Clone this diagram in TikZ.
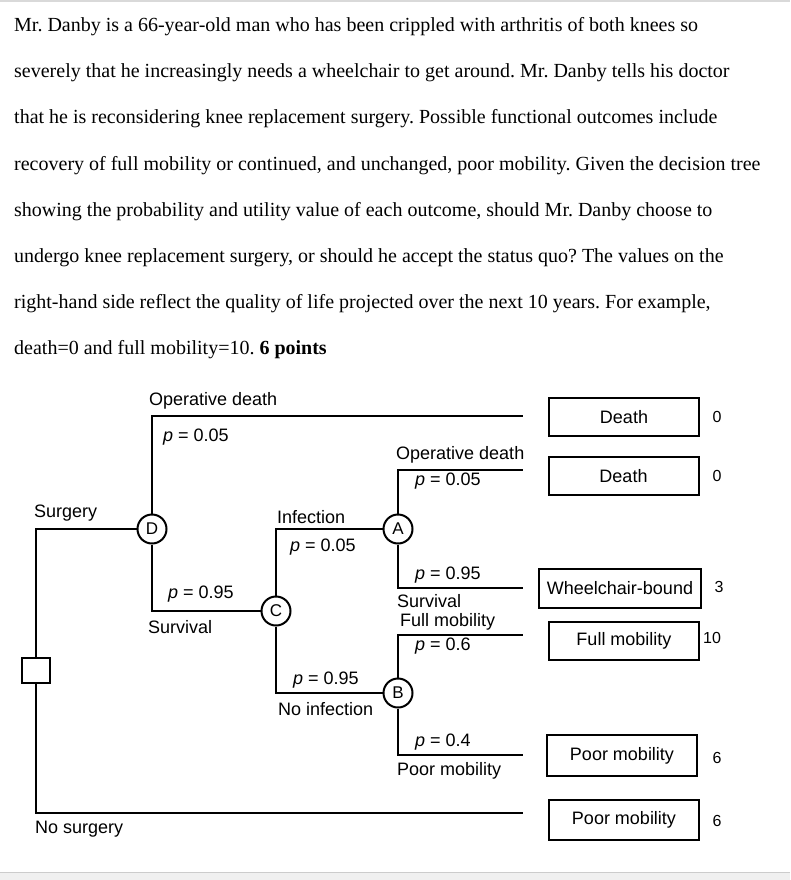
\documentclass[tikz,border=0pt]{standalone}
\usepackage{fontspec}
\setmainfont{Liberation Serif}
\newfontfamily\treefont{Liberation Sans}
\usetikzlibrary{positioning}
\frenchspacing

\begin{document}
\begin{tikzpicture}[x=1pt,y=-1pt,
		chance/.style={draw,circle,line width=2pt,inner sep=0pt,minimum size=29pt,font=\treefont\fontsize{17}{17}\selectfont},
		choice/.style={draw,rectangle,line width=2pt,inner sep=0pt,minimum width=28pt,minimum height=25pt},
		outcome/.style={draw,rectangle,line width=2pt,inner sep=0pt,minimum width=150pt,minimum height=38pt,font=\treefont\fontsize{18}{18}\selectfont},
		lbl/.style={anchor=west,inner sep=0pt,font=\treefont\fontsize{18}{18}\selectfont},
		val/.style={inner sep=0pt,font=\treefont\fontsize{16}{16}\selectfont},
		para/.style={anchor=base west,inner sep=0pt,font=\fontsize{20}{20}\selectfont},
		branch/.style={line width=2pt}]
	%%%%% START %%%%%
	\useasboundingbox (0,0) rectangle (790,880);
	\def\xend{523}
	\def\xdec{36}
	
	% page edges
	\draw[black!15,line width=2pt] (0,1) -- (790,1);
	\fill[black!6] (0,872) rectangle (790,880);
	\draw[black!20] (0,872) -- (790,872);
	
	% question
	\node[para] (l1) at (14,32) {Mr. Danby is a 66-year-old man who has been crippled with arthritis of both knees so};
	\node[para] (l2) at (14,78) {severely that he increasingly needs a wheelchair to get around. Mr. Danby tells his doctor};
	\node[para] (l3) at (14,124) {that he is reconsidering knee replacement surgery. Possible functional outcomes include};
	\node[para] (l4) at (14,170) {recovery of full mobility or continued, and unchanged, poor mobility. Given the decision tree};
	\node[para] (l5) at (14,216) {showing the probability and utility value of each outcome, should Mr. Danby choose to};
	\node[para] (l6) at (14,262) {undergo knee replacement surgery, or should he accept the status quo? The values on the};
	\node[para] (l7) at (14,308) {right-hand side reflect the quality of life projected over the next 10 years. For example,};
	\node[para] (l8) at (14,354) {death=0 and full mobility=10. \textbf{6 points}};
	
	% tree nodes
	\node[choice] (dec) at (\xdec,670) {};
	\node[chance] (D) at (152,529) {D};
	\node[chance] (C) at (276,611) {C};
	\node[chance] (A) at (398,529) {A};
	\node[chance] (B) at (398,693) {B};
	
	\coordinate (e1) at (\xend,416);
	\coordinate (e2) at (\xend,470);
	\coordinate (e3) at (\xend,588);
	\coordinate (e4) at (\xend,635);
	\coordinate (e5) at (\xend,755);
	\coordinate (e6) at (\xend,813);
	
	% branches
	\draw[branch] (dec.north) |- (D.west);
	\draw[branch] (dec.south) |- (e6);
	\draw[branch] (D.north) |- (e1);
	\draw[branch] (D.south) |- (C.west);
	\draw[branch] (C.north) |- (A.west);
	\draw[branch] (C.south) |- (B.west);
	\draw[branch] (A.north) |- (e2);
	\draw[branch] (A.south) |- (e3);
	\draw[branch] (B.north) |- (e4);
	\draw[branch] (B.south) |- (e5);
	
	% branch labels
	\node[lbl] (surg) at (34,513) {Surgery};
	\node[lbl] (nosurg) at (35,829) {No surgery};
	\node[lbl] (opd1) at (149,401) {Operative death};
	\node[lbl] (pd1) at (163,437) {\textit{p} = 0.05};
	\node[lbl] (ps1) at (168,594) {\textit{p} = 0.95};
	\node[lbl] (sv1) at (148,627) {Survival};
	\node[lbl] (inf) at (277,517) {Infection};
	\node[lbl] (pi) at (290,547) {\textit{p} = 0.05};
	\node[lbl] (pn) at (293,680) {\textit{p} = 0.95};
	\node[lbl] (noinf) at (278,709) {No infection};
	\node[lbl] (opd2) at (396,455) {Operative death};
	\node[lbl] (pd2) at (415,481) {\textit{p} = 0.05};
	\node[lbl] (ps2) at (415,575) {\textit{p} = 0.95};
	\node[lbl] (sv2) at (397,601) {Survival};
	\node[lbl] (fm) at (400,622) {Full mobility};
	\node[lbl] (pf) at (415,646) {\textit{p} = 0.6};
	\node[lbl] (pp) at (415,742) {\textit{p} = 0.4};
	\node[lbl] (pm) at (397,771) {Poor mobility};
	
	% outcomes
	\node[outcome] (o1) at (624,417) {Death};
	\node[outcome] (o2) at (623.5,476) {Death};
	\node[outcome,minimum width=162pt,minimum height=39pt] (o3) at (620,588.5) {Wheelchair-bound};
	\node[outcome] (o4) at (624,641) {Full mobility};
	\node[outcome,minimum height=41pt] (o5) at (622,755.5) {Poor mobility};
	\node[outcome,minimum height=40pt] (o6) at (624,820) {Poor mobility};
	
	\node[val] (v1) at (717,417) {0};
	\node[val] (v2) at (717,476) {0};
	\node[val] (v3) at (719,587) {3};
	\node[val] (v4) at (712,638) {10};
	\node[val] (v5) at (717,758) {6};
	\node[val] (v6) at (717,821) {6};
	%%%%% END %%%%%
\end{tikzpicture}
\end{document}
